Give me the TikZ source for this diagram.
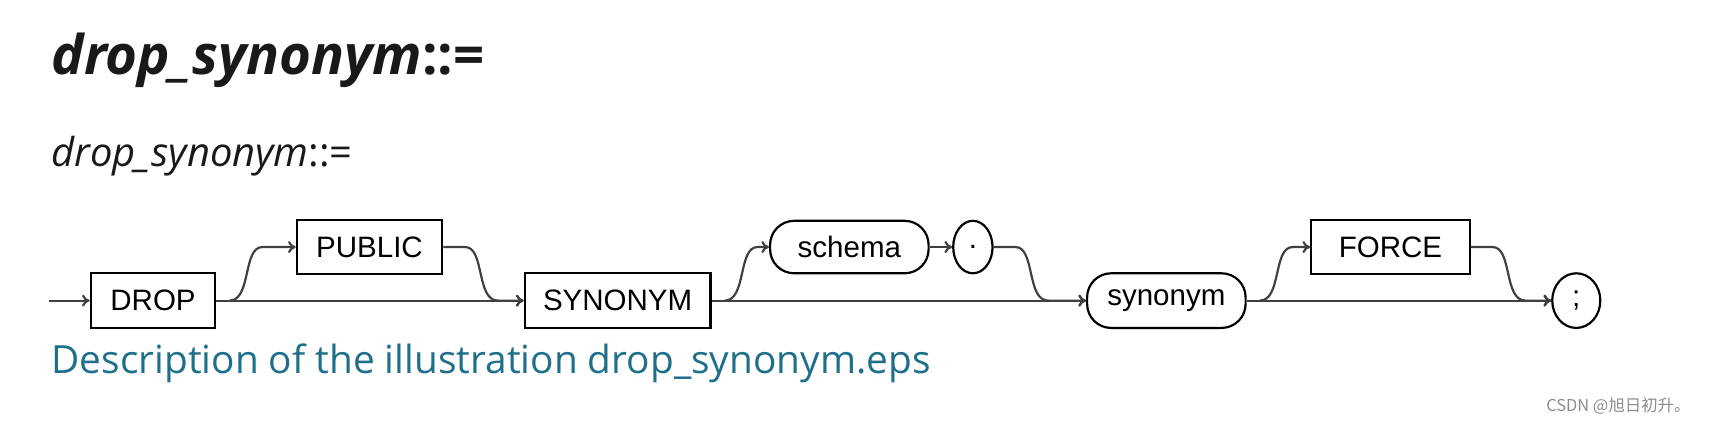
\documentclass[tikz,border=0pt]{standalone}
\usepackage{fontspec}
\setmainfont{Open Sans}
\newfontfamily\diag{Liberation Sans}
\newfontfamily\cjk{Noto Sans CJK SC}
\usetikzlibrary{arrows.meta,shapes.geometric}
\definecolor{linkc}{HTML}{1F6F8B}
\begin{document}
\begin{tikzpicture}[x=1pt,y=-1pt,
  kw/.style={draw,line width=2pt,minimum height=50pt,inner xsep=10pt,font=\diag\fontsize{27}{30}\selectfont},
  nt/.style={kw,rounded corners=22pt},
  el/.style={draw,line width=2pt,ellipse,minimum height=48pt,minimum width=36pt,inner sep=0pt,font=\diag\fontsize{27}{30}\selectfont},
  ln/.style={line width=2pt,draw=black!75,-{To[length=7pt,width=11pt]}}]
\useasboundingbox (0,0) rectangle (1568,386);
\node[anchor=base west,inner sep=0pt,font=\bfseries\fontsize{50}{54}\selectfont,text=black!90] (t) at (47,68) {\textit{drop\_synonym}::=};
\node[anchor=base west,inner sep=0pt,font=\fontsize{36.5}{40}\selectfont,text=black!90] (s) at (47,152) {\textit{drop\_synonym}::=};
\node[anchor=base west,inner sep=0pt,font=\fontsize{35.5}{40}\selectfont,text=linkc] (l) at (47,342) {Description of the illustration drop\_synonym.eps};
\node[anchor=base east,font=\cjk\fontsize{15}{17}\selectfont,text=black!45] (w) at (1550,376) {CSDN @旭日初升。};

\node[kw,minimum width=114pt] (drop) at (140,275) {DROP};
\node[kw,minimum width=133pt] (pub) at (338,226) {PUBLIC};
\node[kw,minimum width=170pt] (syn) at (565,275) {SYNONYM};
\node[nt,minimum width=145pt,minimum height=48pt] (sch) at (777,226) {schema};
\node[el] (dot) at (890,226) {.};
\node[nt,minimum width=145pt] (syno) at (1067,275) {synonym};
\node[kw,minimum width=145pt] (force) at (1272,226) {FORCE};
\node[el,minimum height=50pt,minimum width=44pt] (semi) at (1442,275) {;};

\coordinate (st) at (45,275);
\draw[ln] (st) -- (drop.west);
\draw[ln] (drop.east) -- (syn.west);
\draw[ln] (drop.east) ++(12,0) .. controls +(20,0) and +(-18,0) .. ++(30,-49) -- (pub.west);
\draw[ln] (pub.east) -- ++(20,0) .. controls +(18,0) and +(-20,0) .. ++(30,49) -- (syn.west);
\draw[ln] (syn.east) -- (syno.west);
\draw[ln] (syn.east) ++(12,0) .. controls +(20,0) and +(-18,0) .. ++(30,-49) -- (sch.west);
\draw[ln] (sch.east) -- (dot.west);
\draw[ln] (dot.east) -- ++(20,0) .. controls +(18,0) and +(-20,0) .. ++(30,49) -- (syno.west);
\draw[ln] (syno.east) -- (semi.west);
\draw[ln] (syno.east) ++(12,0) .. controls +(20,0) and +(-18,0) .. ++(30,-49) -- (force.west);
\draw[ln] (force.east) -- ++(20,0) .. controls +(18,0) and +(-20,0) .. ++(30,49) -- (semi.west);
\end{tikzpicture}
\end{document}
